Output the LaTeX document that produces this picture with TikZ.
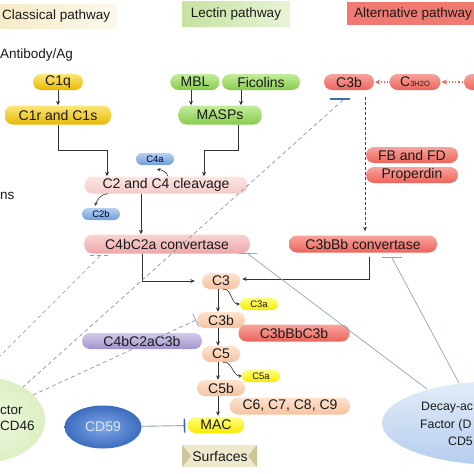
\documentclass[tikz,border=0pt]{standalone}
\usepackage{fontspec}
\setmainfont{Liberation Sans}
\usetikzlibrary{arrows.meta,shapes.geometric,calc}
\definecolor{goldL}{HTML}{FBE679}
\definecolor{goldD}{HTML}{E9B800}
\definecolor{grnL}{HTML}{C4EC9C}
\definecolor{grnD}{HTML}{86CC4A}
\definecolor{redL}{HTML}{F8A49C}
\definecolor{redD}{HTML}{EC645B}
\definecolor{pnkL}{HTML}{FBE6E4}
\definecolor{pnkD}{HTML}{F3CBC8}
\definecolor{pnk2L}{HTML}{F9D3D2}
\definecolor{pnk2D}{HTML}{EDA7A8}
\definecolor{bluL}{HTML}{B7D0F0}
\definecolor{bluD}{HTML}{6F9FDB}
\definecolor{pchL}{HTML}{FDE3CF}
\definecolor{pchD}{HTML}{F6C2A0}
\definecolor{yelL}{HTML}{FFFF80}
\definecolor{yelD}{HTML}{F7EA00}
\definecolor{purL}{HTML}{D3CAEA}
\definecolor{purD}{HTML}{A293CB}
\definecolor{lnc}{HTML}{8798AB}
\definecolor{lns}{HTML}{8EA5BC}
\definecolor{barblue}{HTML}{3C6DB2}
\definecolor{txt}{HTML}{1A1A1A}
\definecolor{creamL}{HTML}{F6EBC8}
\definecolor{creamR}{HTML}{FCF8EC}
\definecolor{lecL}{HTML}{C6E2A0}
\definecolor{lecR}{HTML}{E8F3D6}
\definecolor{altc}{HTML}{F07A70}
\definecolor{cd46L}{HTML}{F3F9E9}
\definecolor{cd46D}{HTML}{DCEFC2}
\definecolor{dafL}{HTML}{E2ECF9}
\definecolor{dafD}{HTML}{B6CDEE}
\definecolor{cd59L}{HTML}{80A8E6}
\definecolor{cd59D}{HTML}{3C6CBE}
\definecolor{cd59T}{HTML}{DCE6F5}
\definecolor{surfL}{HTML}{EEE9CC}
\definecolor{surfD}{HTML}{CFC596}
\tikzset{
  pill/.style={rounded corners=8pt, inner sep=0pt, minimum height=16pt, text=txt,
    font=\fontsize{14}{15}\selectfont},
  goldp/.style={pill, top color=goldL, bottom color=goldD},
  greenp/.style={pill, top color=grnL, bottom color=grnD},
  redp/.style={pill, top color=redL, bottom color=redD},
  pinkl/.style={pill, top color=pnkL, bottom color=pnkD},
  pinkm/.style={pill, top color=pnk2L, bottom color=pnk2D},
  peachp/.style={pill, top color=pchL, bottom color=pchD},
  yellowp/.style={pill, top color=yelL, bottom color=yelD},
  purplep/.style={pill, top color=purL, bottom color=purD},
  smallp/.style={pill, rounded corners=6pt, minimum height=12pt, minimum width=38pt,
    font=\fontsize{9.5}{11}\selectfont},
  bluesm/.style={smallp, top color=bluL, bottom color=bluD, text=black!80!blue},
  yelsm/.style={smallp, top color=yelL, bottom color=yelD},
  plain/.style={inner sep=0pt, text=txt, font=\fontsize{13.5}{15}\selectfont},
  daftext/.style={plain, font=\fontsize{12.3}{14}\selectfont},
  arr/.style={draw=black!80, line width=0.7pt, -{Stealth[length=4.5pt,width=4pt]}},
  carr/.style={draw=black!80, line width=0.6pt, -{Stealth[length=3.5pt,width=3.5pt]}},
  dotarr/.style={draw=redD, line width=1.2pt, dash pattern=on 1.2pt off 2pt,
    -{Stealth[length=5pt,width=5pt]}},
  darr/.style={draw=black!75, line width=0.7pt, dash pattern=on 3pt off 2pt,
    -{Stealth[length=4.5pt,width=4pt]}},
  dline/.style={draw=lnc, line width=0.7pt, dash pattern=on 4pt off 3pt},
  sline/.style={draw=lns, line width=0.7pt},
}
\begin{document}
\begin{tikzpicture}[x=1pt,y=-1pt]
\useasboundingbox (0,0) rectangle (474,474);
\clip (0,0) rectangle (474,474);
\fill[white] (0,0) rectangle (474,474);

% ---- title boxes
\shade[left color=creamL, right color=creamR] (0,4) rectangle (117,28);
\node[plain, anchor=west] (tclass) at (2,16) {Classical pathway};
\shade[left color=lecL, right color=lecR] (182,1) rectangle (290,26);
\node[plain] (tlect) at (236,14) {Lectin pathway};
\fill[altc] (347,2) rectangle (480,25);
\node[plain, anchor=west] (talt) at (354,14) {Alternative pathway};

\node[plain, anchor=west] (tab) at (0,55) {Antibody/Ag};
\node[plain, anchor=west] (tns) at (0,196) {ns};

% ---- big ellipses
\node[ellipse, draw=none, inner color=cd46L, outer color=cd46D,
      minimum width=126pt, minimum height=86pt] (cd46) at (-18,420) {};
\node[plain, anchor=west] (tcd46a) at (0,410) {ctor};
\node[plain, anchor=west] (tcd46b) at (0,426) {CD46};
\node[ellipse, draw=none, top color=dafL, bottom color=dafD,
      minimum width=236pt, minimum height=84pt] (daf) at (500,423) {};
\node[daftext, anchor=west] (tdaf1) at (421,408) {Decay-ac};
\node[daftext, anchor=west] (tdaf2) at (420,425) {Factor (D};
\node[daftext, anchor=west] (tdaf3) at (448,441) {CD5};
\node[ellipse, draw=none, inner color=cd59L, outer color=cd59D,
      minimum width=77pt, minimum height=43pt] (cd59) at (103,427) {};
\node[plain, text=cd59T, font=\fontsize{14}{15}\selectfont] (tcd59) at (103,427) {CD59};

% ---- classical
\node[goldp, minimum width=50pt] (c1q) at (58,82) {C1q};
\node[goldp, minimum width=106pt, minimum height=19pt] (c1r) at (58,115) {C1r and C1s};
% ---- lectin
\node[greenp, minimum width=49pt] (mbl) at (195,82) {MBL};
\node[greenp, minimum width=78pt] (fic) at (261,82) {Ficolins};
\node[greenp, minimum width=83pt, minimum height=19pt] (masps) at (220,115) {MASPs};
% ---- alternative
\node[redp, minimum width=50pt] (c3bA) at (349,82) {C3b};
\node[redp, minimum width=51pt] (c3h2o) at (415,82) {C{\fontsize{7.5}{8}\selectfont 3H2O}};
\node[redp, minimum width=50pt] (cutp) at (489,82) {};
\node[redp, minimum width=92pt] (fbfd) at (412,155) {FB and FD};
\node[redp, minimum width=92pt] (prop) at (412,175) {Properdin};
\node[redp, minimum width=148pt, minimum height=17pt] (conv2) at (363,244) {C3bBb convertase};
% ---- cleavage
\node[pinkl, minimum width=163pt, minimum height=17pt] (cleav) at (166,185) {C2 and C4 cleavage};
\node[bluesm] (c4a) at (155,159) {C4a};
\node[bluesm] (c2b) at (101,214) {C2b};
\node[pinkm, minimum width=165pt, minimum height=19pt] (conv1) at (167,244) {C4bC2a convertase};
% ---- terminal
\node[peachp, minimum width=38pt] (c3) at (221,281) {C3};
\node[peachp, minimum width=48pt] (c3b) at (221,320) {C3b};
\node[peachp, minimum width=38pt] (c5) at (221,354) {C5};
\node[peachp, minimum width=48pt] (c5b) at (221,388) {C5b};
\node[yellowp, minimum width=57pt] (mac) at (216,425) {MAC};
\node[yelsm] (c3a) at (259,304) {C3a};
\node[yelsm] (c5a) at (261,376) {C5a};
\node[redp, minimum width=111pt, minimum height=17pt] (c3bbbc3b) at (294,333) {C3bBbC3b};
\node[peachp, minimum width=120pt, minimum height=17pt] (c6) at (290,406) {C6, C7, C8, C9};
\node[purplep, minimum width=120pt] (c4bc2ac3b) at (142,341) {C4bC2aC3b};

% ---- surfaces
\fill[surfL] (182,445) rectangle (257,467);
\fill[surfD] (182,445) -- (191,456) -- (182,467) -- cycle;
\fill[surfD] (257,445) -- (248,456) -- (257,467) -- cycle;
\node[plain, font=\fontsize{14}{15}\selectfont] (surf) at (220,456) {Surfaces};

% ---- solid arrows
\draw[arr] (c1q) -- (c1r);
\draw[arr] ([xshift=-4pt]mbl.south) -- ([xshift=-4pt]mbl.south |- masps.north);
\draw[arr] ([xshift=-20pt]fic.south) -- ([xshift=-20pt]fic.south |- masps.north);
\coordinate (j1) at (107,150);
\coordinate (j2) at (204,150);
\draw[arr] (c1r.south) |- (j1) -- (j1 |- cleav.north);
\draw[arr] ([xshift=18pt]masps.south) |- (j2) -- (j2 |- cleav.north);
\draw[arr] ([xshift=-25pt]cleav.south) -- ([xshift=-25pt]cleav.south |- conv1.north);
\draw[arr, shorten >=7pt] ([xshift=-25pt]conv1.south) |- (c3.west);
\draw[arr, shorten <=4pt, shorten >=2pt] ([xshift=6pt]conv2.south) |- ([yshift=2pt]c3.east);
\draw[arr] ([xshift=-3pt]c3.south) -- ([xshift=-3pt]c3.south |- c3b.north);
\draw[arr] ([xshift=-3pt]c3b.south) -- ([xshift=-3pt]c3b.south |- c5.north);
\draw[arr] ([xshift=-3pt]c5.south) -- ([xshift=-3pt]c5.south |- c5b.north);
\draw[arr, shorten >=1pt] ([xshift=-3pt]c5b.south) -- ([xshift=-3pt]c5b.south |- mac.north);

% ---- small curved arrows
\draw[carr] ([xshift=2pt]cleav.north) to[out=110,in=-10] ([xshift=2pt,yshift=-4pt]c4a.south);
\draw[carr] ([xshift=-58pt]cleav.south) to[out=180,in=70] ([xshift=-6pt,yshift=2pt]c2b.north);
\draw[carr] ([xshift=2pt]c3.south) to[out=10,in=180] (c3a.west);
\draw[carr] ([xshift=2pt]c5.south) to[out=10,in=180] (c5a.west);

% ---- dotted red arrows
\draw[dotarr, shorten <=1pt, shorten >=1pt] (c3h2o) -- (c3bA);
\draw[dotarr, shorten <=1pt, shorten >=1pt] (cutp) -- (c3h2o);

% ---- dashed alternative arrow
\draw[darr, shorten <=7pt, shorten >=4pt] ([xshift=16pt]c3bA.south) -- ([xshift=16pt]c3bA.south |- conv2.north);

% ---- regulation lines
\coordinate (bA1) at (90,255);
\coordinate (bA2) at (110,255);
\coordinate (bAm) at (100,256);
\coordinate (eA) at (-21,377);
\draw[dline] (bA1) -- (bA2);
\draw[dline] (bAm) -- (eA);
\coordinate (bB1) at (330,99);
\coordinate (bB2) at (350,99);
\coordinate (bBm) at (343,100);
\coordinate (eB) at (23,387);
\draw[dline] (bBm) -- (eB);
\draw[draw=barblue, line width=1.8pt] (bB1) -- (bB2);
\coordinate (bC) at (196,320);
\coordinate (eC) at (33,395);
\draw[dline, {Bar[width=14pt, line width=0.7pt]}-] (bC) -- (eC);
\coordinate (bE1) at (239,253);
\coordinate (bE2) at (257,253);
\coordinate (bEm) at (248,254);
\coordinate (eE) at (427,389);
\draw[sline] (bE1) -- (bE2);
\draw[sline] (bEm) -- (eE);
\coordinate (bD1) at (382,257);
\coordinate (bD2) at (402,257);
\coordinate (bDm) at (392,258);
\coordinate (eD) at (459,383);
\draw[sline, line width=1pt] (bD1) -- (bD2);
\draw[sline] (bDm) -- (eD);
\draw[sline, line width=0.9pt, -{Bar[width=14pt, line width=1.6pt, color=barblue]}, shorten >=2pt] (cd59) -- (mac);
\end{tikzpicture}
\end{document}
